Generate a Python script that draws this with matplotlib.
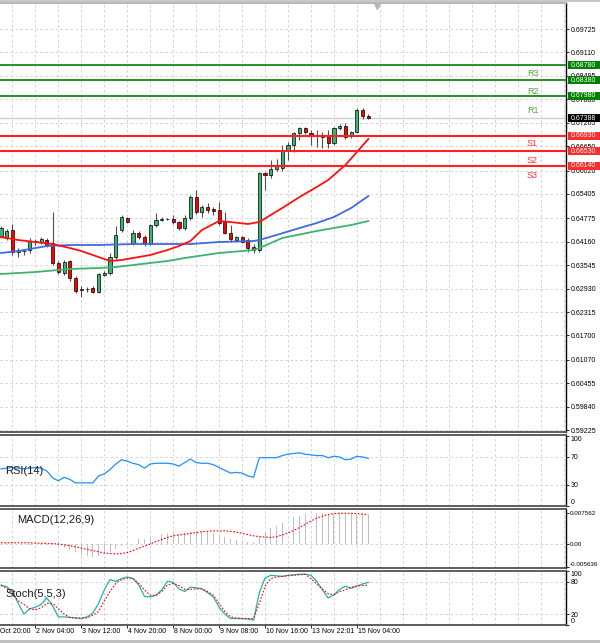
import numpy as np
import matplotlib
matplotlib.use('Agg')
import matplotlib.pyplot as plt
from matplotlib.patches import Rectangle
from matplotlib.transforms import blended_transform_factory

plt.rcParams['font.family'] = ['Liberation Sans', 'DejaVu Sans']

# 4h candles, oldest first
opens = [0.64279, 0.64252, 0.64462, 0.63886, 0.63905, 0.63938, 0.64148, 0.64148, 0.64200, 0.64121,
         0.63598, 0.63336, 0.63650, 0.63205, 0.62891, 0.62917, 0.62943, 0.62838, 0.63284, 0.63336,
         0.63755, 0.64462, 0.64776, 0.64121, 0.64383, 0.64279, 0.64095, 0.64593, 0.64724, 0.64750,
         0.64750, 0.64671, 0.64514, 0.64776, 0.65326, 0.64933, 0.65064, 0.65012, 0.64985, 0.64671,
         0.64383, 0.64200, 0.64279, 0.64200, 0.64017, 0.63938, 0.65954, 0.65902, 0.66059, 0.66086,
         0.66531, 0.66688, 0.67002, 0.67133, 0.67002, 0.66949, 0.66949, 0.66949, 0.66740, 0.67133,
         0.67185, 0.66949, 0.67028, 0.67604, 0.67447]
highs = [0.64567, 0.64488, 0.64619, 0.63990, 0.63938, 0.64252, 0.64226, 0.64279, 0.64252, 0.64933,
         0.63650, 0.63676, 0.63676, 0.63258, 0.62995, 0.62969, 0.62995, 0.63336, 0.63388, 0.63860,
         0.64567, 0.64855, 0.64802, 0.64462, 0.64436, 0.64331, 0.64619, 0.64907, 0.64802, 0.64776,
         0.64855, 0.64698, 0.64855, 0.65378, 0.65509, 0.65117, 0.65169, 0.65064, 0.65195, 0.64933,
         0.64593, 0.64305, 0.64305, 0.64252, 0.64095, 0.65981, 0.65981, 0.66295, 0.66321, 0.66688,
         0.66766, 0.67028, 0.67159, 0.67159, 0.67080, 0.67080, 0.67028, 0.67080, 0.67159, 0.67238,
         0.67264, 0.67054, 0.67657, 0.67657, 0.67500]
lows = [0.64252, 0.64200, 0.63807, 0.63755, 0.63807, 0.63860, 0.64069, 0.64095, 0.64017, 0.63545,
        0.63310, 0.63284, 0.63127, 0.62812, 0.62707, 0.62838, 0.62812, 0.62812, 0.63258, 0.63284,
        0.63702, 0.64409, 0.64645, 0.64069, 0.64226, 0.64043, 0.64069, 0.64541, 0.64698, 0.64724,
        0.64619, 0.64462, 0.64462, 0.64724, 0.64881, 0.64802, 0.64907, 0.64855, 0.64593, 0.64357,
        0.64148, 0.64174, 0.64121, 0.63886, 0.63860, 0.63886, 0.65509, 0.65823, 0.66007, 0.66007,
        0.66295, 0.66504, 0.66819, 0.66976, 0.66688, 0.66636, 0.66609, 0.66609, 0.66688, 0.67080,
        0.66845, 0.66871, 0.67002, 0.67369, 0.67369]
closes = [0.64514, 0.64436, 0.63886, 0.63938, 0.63920, 0.64174, 0.64174, 0.64226, 0.64069, 0.63598,
          0.63362, 0.63624, 0.63205, 0.62865, 0.62917, 0.62905, 0.62838, 0.63310, 0.63336, 0.63755,
          0.64331, 0.64802, 0.64671, 0.64383, 0.64279, 0.64095, 0.64593, 0.64724, 0.64750, 0.64740,
          0.64671, 0.64514, 0.64776, 0.65326, 0.64933, 0.65064, 0.64985, 0.64959, 0.64645, 0.64383,
          0.64226, 0.64279, 0.64148, 0.63990, 0.63938, 0.65954, 0.65902, 0.66059, 0.66138, 0.66557,
          0.66688, 0.67002, 0.67133, 0.67028, 0.66923, 0.66923, 0.66897, 0.66740, 0.67133, 0.67185,
          0.66897, 0.67028, 0.67604, 0.67447, 0.67388]

# moving averages, read at the bars listed
red_ma_bars = [0, 3, 6, 9, 12, 14, 17, 19, 21, 23, 26, 29, 31, 33, 35, 38, 40, 43, 45, 47, 49, 52, 55, 57, 60, 62, 64]
red_ma = [0.64279, 0.64200, 0.64148, 0.64095, 0.63990, 0.63912, 0.63755, 0.63650, 0.63676, 0.63729,
          0.63807, 0.63938, 0.64043, 0.64174, 0.64462, 0.64698, 0.64671, 0.64619, 0.64671, 0.64855,
          0.65038, 0.65326, 0.65588, 0.65771, 0.66164, 0.66504, 0.66845]
blue_ma_bars = [0, 3, 6, 8, 12, 17, 23, 29, 33, 38, 44, 45, 48, 52, 55, 58, 61, 64]
blue_ma = [0.63860, 0.63912, 0.63990, 0.64043, 0.64069, 0.64069, 0.64095, 0.64095, 0.64095, 0.64148,
           0.64174, 0.64200, 0.64331, 0.64514, 0.64645, 0.64802, 0.65038, 0.65352]
green_ma_bars = [0, 6, 12, 17, 20, 23, 26, 29, 32, 38, 44, 45, 49, 55, 58, 61, 64]
green_ma = [0.63310, 0.63362, 0.63441, 0.63467, 0.63493, 0.63545, 0.63598, 0.63650, 0.63729, 0.63860,
            0.63938, 0.63990, 0.64252, 0.64436, 0.64514, 0.64593, 0.64698]

level_names = ['R3', 'R2', 'R1', 'S1', 'S2', 'S3']
levels = [0.68780, 0.68380, 0.67980, 0.66930, 0.66530, 0.66140]
last_price = 0.67388

price_ticks = [0.69725, 0.69110, 0.68495, 0.67880, 0.67265, 0.66650, 0.66020, 0.65405, 0.64775,
               0.64160, 0.63545, 0.62930, 0.62315, 0.61700, 0.61070, 0.60455, 0.59840, 0.59225]

rsi = [53, 54, 55, 54, 53, 54, 55, 54, 50, 40, 36, 41, 38, 33, 33, 33, 33, 43, 46, 52,
       60, 66, 64, 61, 59, 54, 60, 61, 61, 61, 60, 57, 62, 67, 62, 61, 61, 59, 55, 51,
       47, 48, 47, 43, 41, 69, 69, 69, 69, 72, 74, 75, 76, 74, 73, 72, 72, 69, 71, 70,
       66, 67, 71, 70, 68]

macd = [0.0002, 0.0002, 0.0001, -0.0001, -0.0002, -0.0002, -0.0001, -0.0001, -0.0001, -0.0003,
        -0.0006, -0.0010, -0.0014, -0.0019, -0.0026, -0.0030, -0.0031, -0.0029, -0.0025, -0.0020,
        -0.0012, -0.0004, 0.0003, 0.0009, 0.0012, 0.0013, 0.0017, 0.0021, 0.0024, 0.0026,
        0.0026, 0.0025, 0.0027, 0.0030, 0.0032, 0.0032, 0.0030, 0.0028, 0.0023, 0.0017,
        0.0013, 0.0010, 0.0008, 0.0006, 0.0004, 0.0017, 0.0030, 0.0038, 0.0043, 0.0052,
        0.0058, 0.0065, 0.0069, 0.0072, 0.0075, 0.007562, 0.0075, 0.0074, 0.0074, 0.0075,
        0.0071, 0.0072, 0.0074, 0.0073, 0.0070]
macd_signal = [0.0003, 0.0003, 0.0003, 0.0003, 0.0003, 0.0003, 0.0002, 0.0002, 0.0001, 0.0001,
               0.0000, -0.0002, -0.0004, -0.0007, -0.0010, -0.0013, -0.0016, -0.0019, -0.0022, -0.0023,
               -0.0024, -0.0023, -0.0021, -0.0016, -0.0010, -0.0005, 0.0000, 0.0006, 0.0011, 0.0016,
               0.0020, 0.0022, 0.0024, 0.0026, 0.0028, 0.0030, 0.0031, 0.0032, 0.0032, 0.0032,
               0.0031, 0.0029, 0.0026, 0.0023, 0.0020, 0.0018, 0.0017, 0.0016, 0.0018, 0.0022,
               0.0027, 0.0033, 0.0040, 0.0048, 0.0056, 0.0063, 0.0068, 0.0072, 0.0074, 0.0075,
               0.0075, 0.0075, 0.0074, 0.0073, 0.0071]
macd_ticks = [0.007562, 0.0, -0.005636]
macd_tick_labels = ['0.007562', '0.00', '-0.005636']

stoch_main = [74, 71, 62, 40, 20, 30, 33, 38, 50, 35, 15, 15, 14, 13, 12, 15, 22, 40, 65, 84,
              81, 86, 89, 86, 74, 53, 52, 55, 65, 81, 79, 67, 62, 70, 69, 67, 60, 52, 33, 20,
              12, 12, 12, 11, 9, 60, 87, 92, 91, 90, 92, 93, 94, 94, 92, 81, 65, 50, 56, 66,
              72, 68, 72, 76, 79]
stoch_signal = [73, 68, 58, 45, 38, 30, 28, 32, 40, 40, 30, 20, 14, 13, 13, 13, 18, 25, 45, 62,
                77, 84, 87, 86, 77, 65, 55, 55, 62, 74, 77, 73, 66, 66, 67, 67, 62, 55, 40, 25,
                15, 13, 12, 12, 12, 40, 72, 86, 89, 90, 91, 92, 93, 94, 86, 76, 66, 58, 56, 62,
                65, 70, 72, 73, 74]

time_label_bars = [-2, 6, 14, 22, 30, 38, 46, 54, 62]
time_labels = ['31 Oct 20:00', '2 Nov 04:00', '3 Nov 12:00', '4 Nov 20:00', '8 Nov 00:00',
               '9 Nov 08:00', '10 Nov 16:00', '13 Nov 22:01', '15 Nov 04:00']

# layout in pixels
W, H = 600, 643
RIGHT = 566
XLIM = (-0.174, 98.43)
GRID = dict(color='#cccccc', ls=(0, (3, 3)), lw=0.6, zorder=0)
TICK_FS = 5.0

fig = plt.figure(figsize=(W / 100, H / 100), dpi=100)
fig.patch.set_facecolor('white')


def panel(top, bottom):
    ax = fig.add_axes([0, 1 - bottom / H, RIGHT / W, (bottom - top) / H])
    ax.set_xlim(*XLIM)
    ax.set_facecolor('white')
    ax.spines['left'].set_visible(False)
    ax.spines['right'].set_color('black')
    ax.spines['right'].set_linewidth(1.0)
    for s in ('top', 'bottom'):
        ax.spines[s].set_color('#505050')
        ax.spines[s].set_linewidth(1.3)
    ax.yaxis.tick_right()
    ax.tick_params(axis='y', direction='out', length=1.8, width=0.6, labelsize=TICK_FS, pad=1.6)
    ax.set_xticks([])
    for gx in range(2, 99, 4):
        ax.axvline(gx, **GRID)
    return ax


# ---- main price panel
ax = panel(3, 432)
ax.spines['top'].set_color('#b0b0b0')
ax.set_ylim(0.59173, 0.70406)
ax.set_yticks(price_ticks)
ax.set_yticklabels(['%.5f' % p for p in price_ticks])
for p in price_ticks:
    ax.axhline(p, **GRID)
ax.axhline(last_price, color='#d0d0d0', lw=1.0, zorder=1)

bars = np.arange(len(opens))
o = np.array(opens)
c = np.array(closes)
up = c >= o
body_lo = np.minimum(o, c)
body_h = np.maximum(np.abs(c - o), 0.00005)
ax.vlines(bars, lows, highs, color='#505050', lw=0.8, zorder=3)
ax.bar(bars[up], body_h[up], bottom=body_lo[up], width=0.55, color='#3cb371',
       edgecolor='black', lw=0.5, zorder=4)
ax.bar(bars[~up], body_h[~up], bottom=body_lo[~up], width=0.55, color='#ff0000',
       edgecolor='black', lw=0.5, zorder=4)

ax.plot(green_ma_bars, green_ma, color='#3cb371', lw=1.3, zorder=5)
ax.plot(blue_ma_bars, blue_ma, color='#4169e1', lw=1.3, zorder=5)
ax.plot(red_ma_bars, red_ma, color='#ff1010', lw=1.3, zorder=5)

label_offsets = [8, 11, 15, 8, 9, 10]   # px below each line
box_tr = blended_transform_factory(fig.transFigure, ax.transData)
box_h = 8 / 3819
for name, lvl, off in zip(level_names, levels, label_offsets):
    res = name.startswith('R')
    line_col = '#008000' if res else '#ff2020'
    ax.axhline(lvl, color=line_col, lw=1.2 if res else 1.5, zorder=6)
    ax.annotate(name, (91.6, lvl), xytext=(0, -off * 0.72), textcoords='offset points',
                va='center', ha='left', fontsize=6.5,
                color='#5fa040' if res else '#ff3030', zorder=7)
    ax.add_patch(Rectangle((568 / W, lvl - box_h / 2), 32 / W, box_h, transform=box_tr,
                           facecolor='#008000' if res else '#ff2a2a', edgecolor='none',
                           clip_on=False, zorder=8))
    ax.text(570.5 / W, lvl, '%.5f' % lvl, transform=box_tr, color='white', fontsize=TICK_FS,
            va='center', ha='left', clip_on=False, zorder=9)
ax.add_patch(Rectangle((568 / W, last_price - box_h / 2), 32 / W, box_h, transform=box_tr,
                       facecolor='black', edgecolor='none', clip_on=False, zorder=8))
ax.text(570.5 / W, last_price, '%.5f' % last_price, transform=box_tr, color='white',
        fontsize=TICK_FS, va='center', ha='left', clip_on=False, zorder=9)
ax.plot([65.5], [0.70330], marker='v', color='#b8b8b8', ms=4, clip_on=False, zorder=9)

# ---- RSI
ax_rsi = panel(435, 506)
ax_rsi.set_ylim(0, 101.4)
ax_rsi.set_yticks([100, 70, 30, 0])
ax_rsi.set_yticklabels(['100', '70', '30', '0'])
ax_rsi.get_yticklabels()[0].set_va('top')
ax_rsi.get_yticklabels()[3].set_va('bottom')
for g in (70, 30):
    ax_rsi.axhline(g, **GRID)
ax_rsi.plot(bars, rsi, color='#1e90ff', lw=0.9, zorder=3)
ax_rsi.text(5 / RIGHT, 0.5, 'RSI(14)', transform=ax_rsi.transAxes, fontsize=8,
            va='center', ha='left', color='#1a1a1a', zorder=4)

# ---- MACD
ax_macd = panel(509, 568)
ax_macd.set_ylim(-0.00585, 0.00854)
ax_macd.set_yticks(macd_ticks)
ax_macd.set_yticklabels(macd_tick_labels)
ax_macd.tick_params(axis='y', labelsize=4.5, pad=1.2)
ax_macd.get_yticklabels()[2].set_va('bottom')
ax_macd.axhline(0, **GRID)
ax_macd.bar(bars, macd, width=0.16, color='#c0c0c0', zorder=2)
ax_macd.plot(bars, macd_signal, color='#ff0000', lw=0.8, ls=(0, (1.5, 1.5)), zorder=3)
ax_macd.text(17 / RIGHT, 0.81, 'MACD(12,26,9)', transform=ax_macd.transAxes, fontsize=8,
             va='center', ha='left', color='#1a1a1a', zorder=4)

# ---- Stochastic
ax_st = panel(571, 625)
ax_st.set_ylim(0, 100)
ax_st.set_yticks([100, 80, 20, 0])
ax_st.set_yticklabels(['100', '80', '20', '0'])
ax_st.get_yticklabels()[0].set_va('top')
ax_st.get_yticklabels()[3].set_va('bottom')
for g in (80, 20):
    ax_st.axhline(g, **GRID)
ax_st.plot(bars, stoch_main, color='#20b2aa', lw=0.9, zorder=3)
ax_st.plot(bars, stoch_signal, color='#ff0000', lw=0.8, ls=(0, (1.5, 1.5)), zorder=3)
ax_st.text(5 / RIGHT, 0.57, 'Stoch(5,5,3)', transform=ax_st.transAxes, fontsize=8,
           va='center', ha='left', color='#1a1a1a', zorder=4)

ax_st.set_xticks([b for b in time_label_bars if b >= 0])
ax_st.set_xticklabels([])
ax_st.tick_params(axis='x', direction='out', length=2.5, width=0.6)
lbl_tr = blended_transform_factory(ax_st.transData, ax_st.transAxes)
for b, t in zip(time_label_bars, time_labels):
    ax_st.text(b + 0.15, -0.06, t, transform=lbl_tr, fontsize=TICK_FS, va='top', ha='left',
               clip_on=False)

# window frame bits
fig.add_artist(Rectangle((0, 1 - 2 / H), 1, 2 / H, transform=fig.transFigure,
                         facecolor='#c8c8c8', edgecolor='none'))
fig.add_artist(Rectangle((0, 0), 1, 3 / H, transform=fig.transFigure,
                         facecolor='#c0c0c0', edgecolor='none'))

fig.savefig('out.png', dpi=100)
